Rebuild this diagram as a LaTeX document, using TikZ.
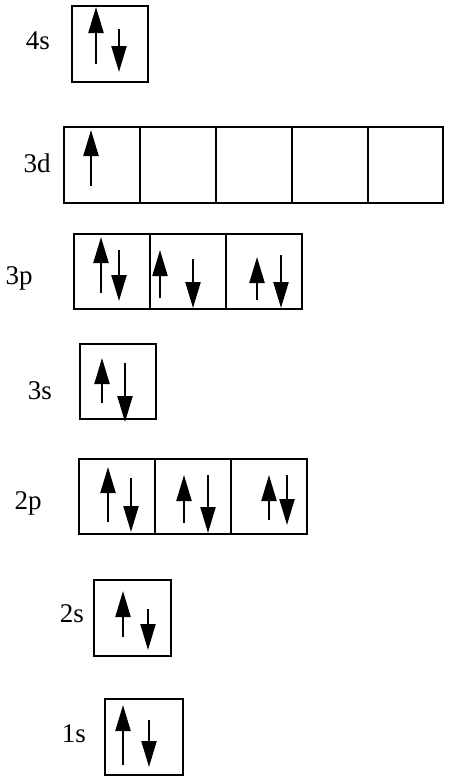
\documentclass[tikz,border=0pt]{standalone}
\usepackage{fontspec}
\setmainfont{Liberation Serif}
\usetikzlibrary{arrows.meta}
\begin{document}
\begin{tikzpicture}[x=1pt,y=-1pt,
  orb/.style={draw=black,line width=2.2pt},
  spin/.style={line width=2.2pt,-{Triangle[length=26pt,width=15pt]}},
  lbl/.style={font=\fontsize{27}{27}\selectfont,inner sep=0pt,anchor=base}]
\useasboundingbox (0,0) rectangle (450,782);
% 4s
\node[lbl] (l4s) at (38,49) {4s};
\draw[orb] (72,6) rectangle (148,82);
\draw[spin] (96,64) -- (96,7);
\draw[spin] (119,29) -- (119,72);
% 3d
\node[lbl] (l3d) at (37,172) {3d};
\draw[orb] (64,127) rectangle (443,203);
\foreach \x in {140,216,292,368} \draw[orb] (\x,127) -- (\x,203);
\draw[spin] (91,186) -- (91,130);
% 3p
\node[lbl] (l3p) at (19,284) {3p};
\draw[orb] (74,234) rectangle (302,309);
\foreach \x in {150,226} \draw[orb] (\x,234) -- (\x,309);
\draw[spin] (101,293) -- (101,237);
\draw[spin] (119,250) -- (119,301);
\draw[spin] (160,298) -- (160,250);
\draw[spin] (193,259) -- (193,308);
\draw[spin] (257,300) -- (257,257);
\draw[spin] (281,255) -- (281,308);
% 3s
\node[lbl] (l3s) at (40,399) {3s};
\draw[orb] (80,344) rectangle (156,419);
\draw[spin] (102,403) -- (102,358);
\draw[spin] (125,363) -- (125,422);
% 2p
\node[lbl] (l2p) at (28,509) {2p};
\draw[orb] (79,459) rectangle (307,534);
\foreach \x in {155,231} \draw[orb] (\x,459) -- (\x,534);
\draw[spin] (108,522) -- (108,467);
\draw[spin] (131,478) -- (131,532);
\draw[spin] (184,523) -- (184,475);
\draw[spin] (208,475) -- (208,533);
\draw[spin] (269,520) -- (269,475);
\draw[spin] (287,475) -- (287,525);
% 2s
\node[lbl] (l2s) at (72,622) {2s};
\draw[orb] (94,580) rectangle (171,656);
\draw[spin] (123,637) -- (123,591);
\draw[spin] (148,609) -- (148,650);
% 1s
\node[lbl] (l1s) at (74,742) {1s};
\draw[orb] (105,699) rectangle (183,775);
\draw[spin] (123,765) -- (123,705);
\draw[spin] (149,720) -- (149,767);
\end{tikzpicture}
\end{document}
